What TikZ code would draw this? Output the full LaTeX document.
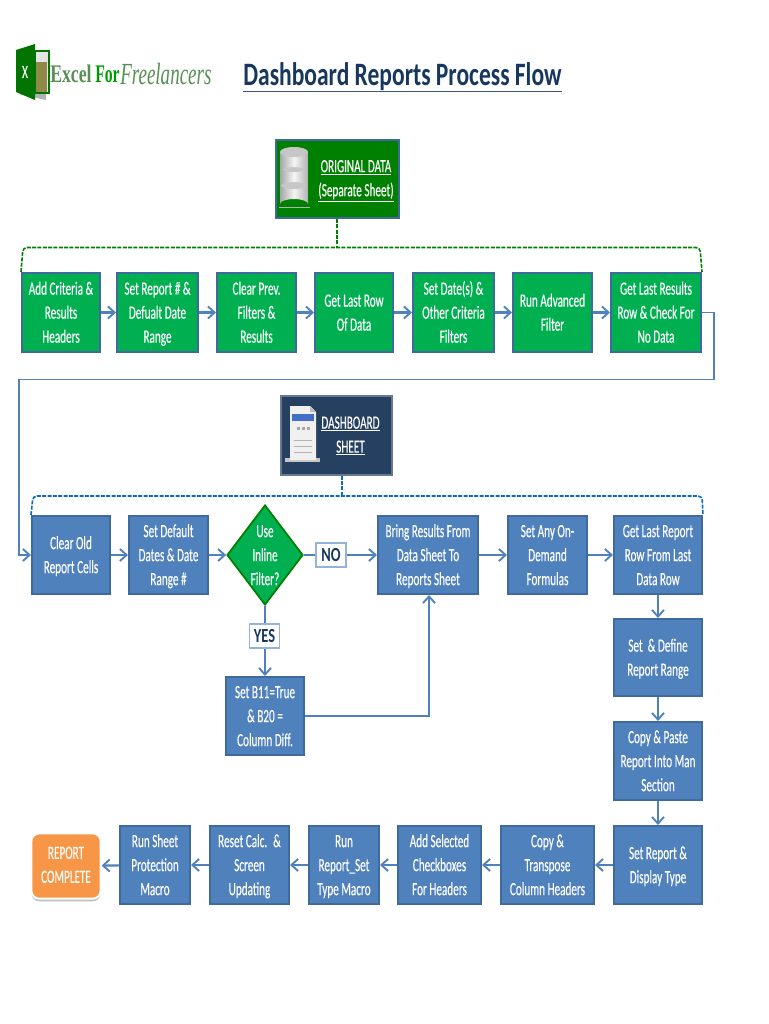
\documentclass[tikz,border=0pt]{standalone}
\usepackage{fontspec}
\setmainfont{Carlito}
\newfontfamily\cond[FakeStretch=0.60,FakeBold=0.25]{Carlito}
\newfontfamily\condb[FakeStretch=0.72]{Carlito}[BoldFont={Carlito Bold}]
\newfontfamily\logoa[FakeStretch=0.7]{Liberation Serif}
\newfontfamily\logob[FakeStretch=0.62]{Liberation Serif}
\usetikzlibrary{arrows.meta,shapes.geometric,shadows}
\definecolor{bluef}{HTML}{4F81BD}
\definecolor{blueb}{HTML}{3E6A9E}
\definecolor{greenf}{HTML}{00B050}
\definecolor{greend}{HTML}{008000}
\definecolor{navy}{HTML}{17375E}
\definecolor{navyf}{HTML}{254061}
\definecolor{orangef}{HTML}{F79646}
\definecolor{dashb}{HTML}{0A6CC4}
\newcommand{\topstrut}{\rule{0pt}{14.6pt}}
\tikzset{
  box/.style={draw=blueb,line width=1.5pt,inner sep=0pt,align=center,text=white,
     font=\cond\fontsize{14}{18}\selectfont},
  bluebox/.style={box,fill=bluef},
  greenbox/.style={box,fill=greenf},
  flow/.style={draw=bluef,line width=1.6pt,-{Straight Barb[length=5pt,width=9pt,line width=1.4pt]}},
  flowline/.style={draw=bluef,line width=1.3pt},
  tag/.style={draw=bluef!60,fill=white,line width=1.2pt,inner sep=0pt,minimum width=22.5pt,minimum height=18pt,
     text=navy,font=\condb\fontsize{15}{18}\selectfont\bfseries},
  greendash/.style={draw=greend,line width=1.2pt,dash pattern=on 3pt off 1pt,rounded corners=3pt},
  bluedash/.style={draw=dashb,line width=1.2pt,dash pattern=on 3pt off 1pt,rounded corners=3pt},
}
\newcommand{\bx}[7]{\node[#6,minimum width={(#4-#2)*0.75pt},minimum height={(#5-#3)*0.75pt}] (#1)
   at ({(#2+#4)/2},{(#3+#5)/2}) {\topstrut#7\strut};}
\newcommand{\dbdisk}[2]{%
  \shade[left color=gray!70,right color=gray!60,middle color=gray!8] (#1-14,#2) -- (#1-14,#2+20) arc[x radius=14,y radius=5,start angle=180,end angle=360] -- (#1+14,#2) -- cycle;
  \fill[gray!45] (#1,#2) ellipse[x radius=14,y radius=5];
}
\begin{document}
\begin{tikzpicture}[x=0.75pt,y=-0.75pt]
\useasboundingbox (0,0) rectangle (768,1024);
\fill[white] (0,0) rectangle (768,1024);

% logo
\fill[black!30] (18,94) -- (46,100) -- (46,94) -- cycle;
\fill[black!10] (35,51) rectangle (49,93);
\fill[olive!50!gray] (36,62) rectangle (47,92);
\draw[green!45!black,line width=.8pt] (35,51) rectangle (49,93);
\fill[green!45!black] (16,50) -- (35,44) -- (35,100) -- (16,92) -- cycle;
\node[text=white,font=\cond\fontsize{14}{14}\selectfont] (logox) at (25,72) {X};
\node[text=green!25!gray!90!black,font=\logoa\fontsize{19}{19}\selectfont\bfseries,inner sep=0pt,anchor=west] (logoe) at (50,74) {Excel};
\node[text=green!60!black,font=\logob\fontsize{19}{19}\selectfont\bfseries,inner sep=0pt,anchor=west] (logof) at (95,74) {For};
\node[text=green!25!gray!90!black,font=\logob\fontsize{23}{23}\selectfont\itshape,inner sep=0pt,anchor=west] (logol) at (120,74) {Freelancers};

% title
\node[text=navy,font=\condb\fontsize{24.5}{24}\selectfont\bfseries,inner sep=0pt] (title) at (402.5,77) {Dashboard Reports Process Flow};
\coordinate (tl) at (243,91.5); \coordinate (tr) at (562,91.5);
\draw[navy!85!white,line width=1.2pt] (tl) -- (tr);

% original data
\bx{orig}{276}{140}{399}{218}{box,fill=greend}{}
\dbdisk{294}{184}\dbdisk{294}{167}\dbdisk{294}{152}
\fill[gray!60] (279,206.5) rectangle (310,207.5);
\node[text=white,font=\cond\fontsize{14}{18}\selectfont,align=center,inner sep=0pt] (origt) at (356,181) {\underline{ORIGINAL DATA}\\\underline{(Separate Sheet)}};

% green row
\bx{g1}{22}{273}{100}{352}{greenbox}{Add Criteria \&\\Results\\Headers}
\bx{g2}{117}{273}{198}{352}{greenbox}{Set Report \# \&\\Defualt Date\\Range}
\bx{g3}{217}{273}{296}{352}{greenbox}{Clear Prev.\\Filters \&\\Results}
\bx{g4}{315}{273}{393}{352}{greenbox}{Get Last Row\\Of Data}
\bx{g5}{413}{273}{494}{352}{greenbox}{Set Date(s) \&\\Other Criteria\\Filters}
\bx{g6}{513}{273}{592}{352}{greenbox}{Run Advanced\\Filter}
\bx{g7}{611}{273}{701}{352}{greenbox}{Get Last Results\\Row \& Check For\\No Data}
\foreach \a/\b in {g1/g2,g2/g3,g3/g4,g4/g5,g5/g6,g6/g7} \draw[flow] (\a) -- (\b);

% dashed green bracket
\coordinate (gm) at (337,247.5);
\draw[greendash] (g1.north west) -- (23,247.5) -- (700,247.5) -- (g7.north east);
\draw[greendash] (orig.south -| gm) -- (gm);

% dashboard
\bx{dash}{281}{396}{392}{475}{box,fill=navyf,draw=navyf!70!white,line width=1pt}{}
\fill[gray!45] (285,458) rectangle (320,462);
\fill[gray!12] (290,406) -- (310,406) -- (316,412) -- (316,460) -- (290,460) -- cycle;
\fill[gray!50] (310,406) -- (316,412) -- (310,412) -- cycle;
\fill[bluef!85!blue] (292,414) rectangle (314,421);
\foreach \yy in {440,446,452} \fill[gray!60] (294,\yy) rectangle (312,\yy+1.3);
\foreach \xx in {297,302,307} \fill[gray!70] (\xx,427) rectangle (\xx+2.5,430);
\node[text=white,font=\cond\fontsize{14}{18}\selectfont,align=center,inner sep=0pt] (dasht) at (350.5,436) {\underline{DASHBOARD}\\\underline{SHEET}};

% blue row
\bx{b1}{32}{516}{110}{594}{bluebox}{Clear Old\\Report Cells}
\bx{b2}{129}{516}{208}{594}{bluebox}{Set Default\\Dates \& Date\\Range \#}
\node[diamond,draw=green!50!black,fill=greenf,line width=1.3pt,inner sep=0pt,aspect=0.76,
  minimum width=57pt,minimum height=75pt] (dia) at (265,555) {};
\node[text=white,align=center,inner sep=0pt,font=\cond\fontsize{14}{18}\selectfont] (diat) at (dia.center) {\topstrut Use\\Inline\\Filter?\strut};
\bx{b3}{378}{516}{478}{594}{bluebox}{Bring Results From\\Data Sheet To\\Reports Sheet}
\bx{b4}{508}{516}{587}{594}{bluebox}{Set Any On-\\Demand\\Formulas}
\bx{b5}{614}{516}{702}{594}{bluebox}{Get Last Report\\Row From Last\\Data Row}
\bx{r1}{614}{619}{702}{696}{bluebox}{Set \ \& Define\\Report Range}
\bx{r2}{614}{722}{702}{800}{bluebox}{Copy \& Paste\\Report Into Man\\Section}
\bx{r3}{614}{826}{702}{904}{bluebox}{Set Report \&\\Display Type}
\bx{c1}{501}{826}{594}{904}{bluebox}{Copy \&\\Transpose\\Column Headers}
\bx{c2}{398}{826}{481}{904}{bluebox}{Add Selected\\Checkboxes\\For Headers}
\bx{c3}{309}{826}{379}{904}{bluebox}{Run\\Report\_Set\\Type Macro}
\bx{c4}{210}{826}{289}{904}{bluebox}{Reset Calc. \ \&\\Screen\\Updating}
\bx{c5}{120}{826}{190}{904}{bluebox}{Run Sheet\\Protection\\Macro}
\bx{sb}{226}{677}{304}{755}{bluebox}{Set B11=True\\\& B20 =\\Column Diff.}
\node[rounded corners=6pt,fill=orangef,draw=white,line width=1.5pt,drop shadow={opacity=.5,shadow xshift=0pt,shadow yshift=-2pt},
  minimum width=52pt,minimum height=49pt,inner sep=0pt,align=center,text=white,
  font=\cond\fontsize{14}{18}\selectfont] (done) at (66,866) {\strut REPORT\\COMPLETE\strut};

% tags
\node[tag] (no) at (331,555) {NO};
\node[tag] (yes) at (264.5,636) {YES};

% connectors
\draw[flow] (b1) -- (b2);
\draw[flow] (b2) -- (dia);
\draw[flowline] (dia) -- (no);
\draw[flow] (no) -- (b3);
\draw[flowline] (dia.south) -- (yes.north -| dia.south);
\draw[flow] (yes.south -| sb.north) -- (sb.north);
\draw[flow] (b3) -- (b4);
\draw[flow] (b4) -- (b5);
\draw[flow] (b5) -- (r1);
\draw[flow] (r1) -- (r2);
\draw[flow] (r2) -- (r3);
\draw[flow] (r3) -- (c1);
\draw[flow] (c1) -- (c2);
\draw[flow] (c2) -- (c3);
\draw[flow] (c3) -- (c4);
\draw[flow] (c4) -- (c5);
\draw[flow] (c5) -- (done);
\draw[flow] (sb.east) -- (429,716) -- (b3.south -| 429,716);
\coordinate (wr) at (714,379.5); \coordinate (wl) at (19,379.5);
\draw[flow,line width=1.3pt] (g7.east) -- (wr |- g7.east) -- (wr) -- (wl) -- (wl |- b1.west) -- (b1.west);

% dashed blue bracket
\coordinate (bm) at (342,496);
\draw[bluedash] (b1.north west) -- (33,496) -- (702,496) -- (b5.north east);
\draw[bluedash] (dash.south -| bm) -- (bm);
\end{tikzpicture}
\end{document}
